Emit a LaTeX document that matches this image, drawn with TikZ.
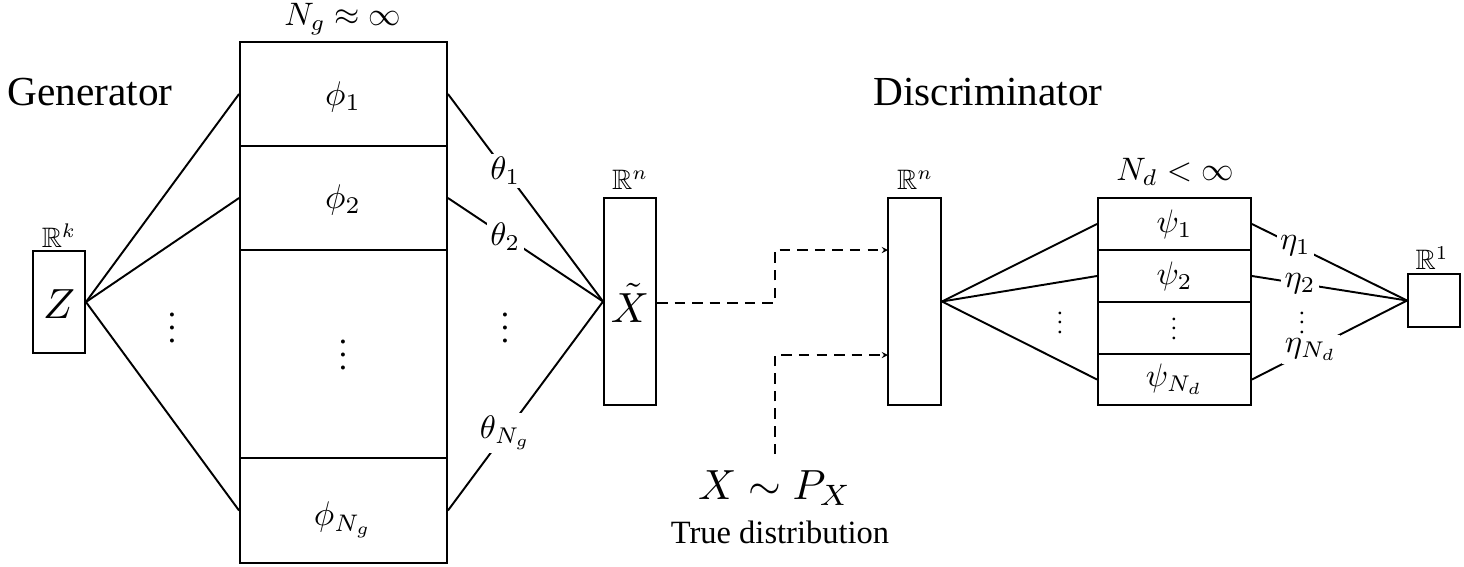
\documentclass[tikz,border=0pt]{standalone}
\usepackage{amssymb}
\usepackage{fontspec}
\setmainfont{Liberation Serif}
\begin{document}
\begin{tikzpicture}[x=0.02cm,y=-0.02cm,line width=1.1pt,
  box/.style={draw,inner sep=0pt,minimum width=#1},
  lab/.style={fill=white,inner sep=1pt,scale=1.85},
  big/.style={scale=2.35},
  sm/.style={scale=1.6},
  dsh/.style={line width=0.6pt,dash pattern=on 6pt off 4pt,-stealth}]
\useasboundingbox (0,0) rectangle (1464,566);
% Generator side
\node[big] (gen) at (90,92) {Generator};
\node[box=1.04cm,minimum height=2.04cm] (Z) at (59,302) {};
\node[scale=2.4] (zl) at (59,304) {$Z$};
\node[sm] (rk) at (59,236) {$\mathbb{R}^k$};
\node[box=4.14cm,minimum height=2.08cm] (c1) at (343.5,94) {};
\node[box=4.14cm,minimum height=2.08cm] (c2) at (343.5,198) {};
\node[box=4.14cm,minimum height=4.16cm] (c3) at (343.5,354) {};
\node[box=4.14cm,minimum height=2.1cm] (c4) at (343.5,510.5) {};
\node[scale=1.95] at (343,97) {$\phi_1$};
\node[scale=1.95] at (343,200) {$\phi_2$};
\node[scale=1.9] at (343,345) {$\vdots$};
\node[scale=1.95] at (343,520) {$\phi_{N_g}$};
\node[scale=1.85] (ng) at (343,19) {$N_g\approx\infty$};
\node[scale=1.9] (gd) at (172,318) {$\vdots$};
\draw (Z.east) -- (c1.west);
\draw (Z.east) -- (c2.west);
\draw (Z.east) -- (c4.west);
\node[box=1.04cm,minimum height=4.14cm] (Xt) at (630,301.5) {};
\node[scale=2.4] at (630,303) {$\tilde X$};
\node[sm] (rn1) at (630,180) {$\mathbb{R}^n$};
\draw (c1.east) -- node[lab,pos=0.37] {$\theta_1$} (Xt.west);
\draw (c2.east) -- node[lab,pos=0.37] {$\theta_2$} (Xt.west);
\draw (c4.east) -- node[lab,pos=0.37] {$\theta_{N_g}$} (Xt.west);
\node[scale=1.9] (td) at (505,318) {$\vdots$};
% Discriminator
\node[big] (disc) at (988,92) {Discriminator};
\node[box=1.06cm,minimum height=4.14cm] (D) at (914.5,301.5) {};
\node[sm] (rn2) at (915,180) {$\mathbb{R}^n$};
\coordinate (a1) at (888,250);
\coordinate (a2) at (888,355);
\node[scale=2.4] (X) at (775,488) {$X\sim P_X$};
\node[scale=1.85] (true) at (780,532) {True distribution};
\draw[dsh] (Xt.east|-0,303) -| (775,277) |- (a1);
\draw[dsh] (X.north) |- (a2);
\node[box=3.06cm,minimum height=1.04cm] (p1) at (1174.5,224) {};
\node[box=3.06cm,minimum height=1.04cm] (p2) at (1174.5,276) {};
\node[box=3.06cm,minimum height=1.04cm] (p3) at (1174.5,328) {};
\node[box=3.06cm,minimum height=1.02cm] (p4) at (1174.5,379.5) {};
\node[scale=1.85] at (p1) {$\psi_1$};
\node[scale=1.85] at (p2) {$\psi_2$};
\node[scale=1.3] at (1174,322) {$\vdots$};
\node[scale=1.85] at (p4) {$\psi_{N_d}$};
\node[scale=1.85] (nd) at (1175,172) {$N_d<\infty$};
\node[scale=1.3] (dd) at (1060,316) {$\vdots$};
\draw (D.east) -- (p1.west);
\draw (D.east) -- (p2.west);
\draw (D.east) -- (p4.west);
\node[box=1.04cm,minimum height=1.06cm] (O) at (1434,300.5) {};
\node[sm] (r1) at (1432,258) {$\mathbb{R}^1$};
\draw (p1.east) -- node[lab,pos=0.28] {$\eta_1$} (O.west);
\draw (p2.east) -- node[lab,pos=0.31] {$\eta_2$} (O.west);
\draw (p4.east) -- node[lab,pos=0.38] {$\eta_{N_d}$} (O.west);
\node[scale=1.3] (ed) at (1302,316) {$\vdots$};
\end{tikzpicture}
\end{document}
